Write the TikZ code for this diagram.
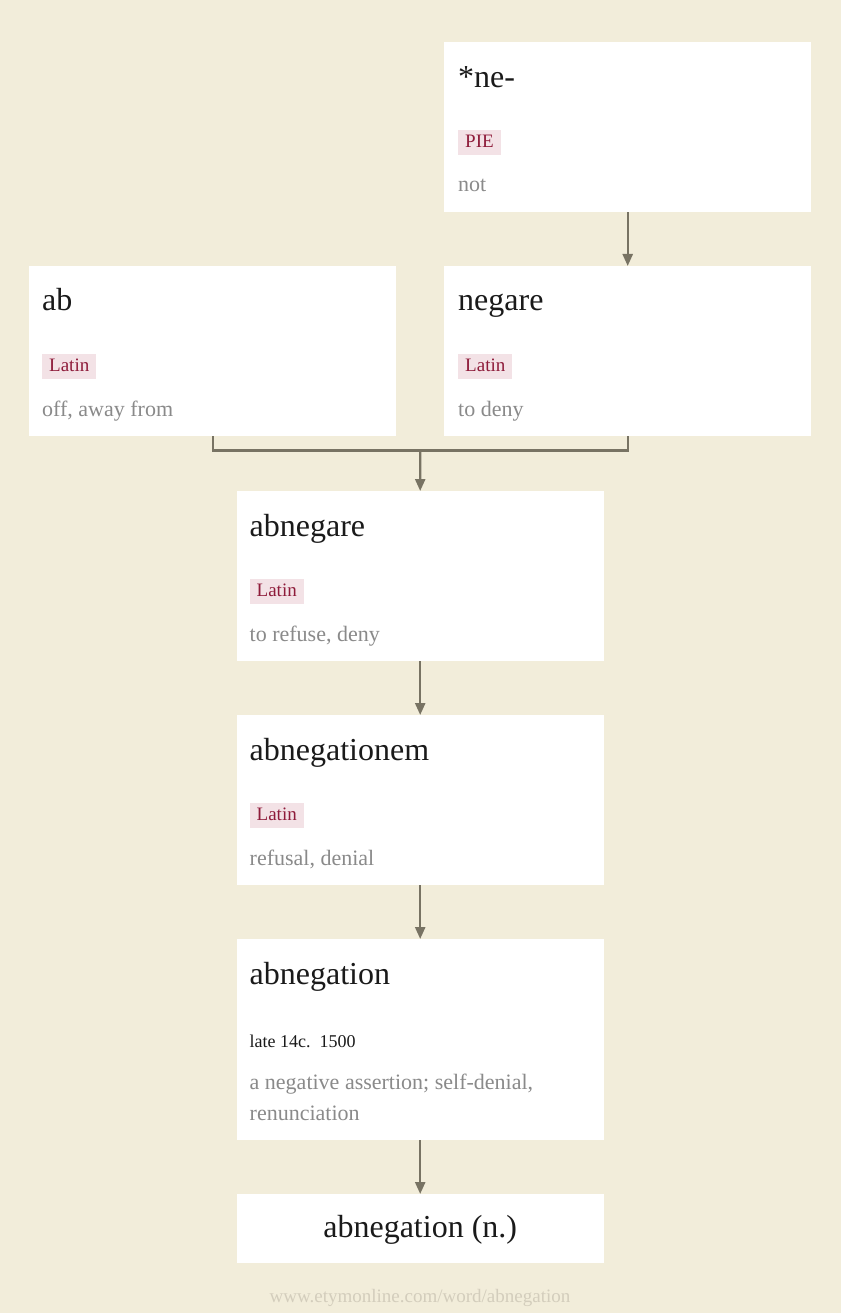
\documentclass[tikz,border=0pt]{standalone}
\usepackage{fontspec}
\setmainfont{Liberation Serif}
\usepackage{xcolor}
\usetikzlibrary{calc, positioning, arrows.meta}

\definecolor{paper}{HTML}{F2EDDA}
\definecolor{ink}{HTML}{1A1A1A}
\definecolor{gloss}{HTML}{8A8A8A}
\definecolor{tagfill}{HTML}{F3E2E6}
\definecolor{tagink}{HTML}{8E1B3A}
\definecolor{wire}{HTML}{787363}
\definecolor{foot}{HTML}{D3CDBC}

\tikzset{
	entry/.style={fill=white, inner sep=0pt, minimum width=367pt, minimum height=170pt, anchor=north west},
	headword/.style={anchor=base west, inner sep=0pt, text=ink, font=\fontsize{32}{38}\selectfont},
	langtag/.style={anchor=north west, fill=tagfill, text=tagink, inner xsep=7pt, inner ysep=0pt,
		minimum height=25pt, text height=13pt, text depth=4pt, font=\fontsize{19}{22}\selectfont},
	meaning/.style={anchor=base west, inner sep=0pt, text=gloss, align=left, font=\fontsize{22}{31}\selectfont},
	dating/.style={anchor=base west, inner sep=0pt, text=ink, font=\fontsize{18}{22}\selectfont},
	link/.style={draw=wire, line width=2.4pt},
	arr/.style={link, -{Triangle[width=10pt, length=12pt]}}
}

\begin{document}
\begin{tikzpicture}[x=1pt, y=-1pt]
			\useasboundingbox (0,0) rectangle (840,1313);
			\fill [paper] (-5,-5) rectangle (845,1318);

			\begin{scope}
				\node [entry] (ne) at (444,42) {};
				\node [headword] (neword) at ($(ne.north west)+(14,46)$) {*ne-};
				\node [langtag] (netag) at ($(ne.north west)+(14,88)$) {PIE};
				\node [meaning] (nemean) at ($(ne.north west)+(14,150)$) {not};

				\node [entry] (ab) at (29,266) {};
				\node [headword] (abword) at ($(ab.north west)+(13,45)$) {ab};
				\node [langtag] (abtag) at ($(ab.north west)+(13,88)$) {Latin};
				\node [meaning] (abmean) at ($(ab.north west)+(13,150)$) {off, away from};

				\node [entry] (negare) at (444,266) {};
				\node [headword] (negareword) at ($(negare.north west)+(14,45)$) {negare};
				\node [langtag] (negaretag) at ($(negare.north west)+(14,88)$) {Latin};
				\node [meaning] (negaremean) at ($(negare.north west)+(14,150)$) {to deny};

				\node [entry] (abnegare) at (236.5,491) {};
				\node [headword] (abnegareword) at ($(abnegare.north west)+(13,45)$) {abnegare};
				\node [langtag] (abnegaretag) at ($(abnegare.north west)+(13,88)$) {Latin};
				\node [meaning] (abnegaremean) at ($(abnegare.north west)+(13,150)$) {to refuse, deny};

				\node [entry] (abnegationem) at (236.5,715) {};
				\node [headword] (abnegationemword) at ($(abnegationem.north west)+(13,45)$) {abnegationem};
				\node [langtag] (abnegationemtag) at ($(abnegationem.north west)+(13,88)$) {Latin};
				\node [meaning] (abnegationemmean) at ($(abnegationem.north west)+(13,150)$) {refusal, denial};

				\node [entry, minimum height=201pt] (abnegation) at (236.5,939) {};
				\node [headword] (abnegationword) at ($(abnegation.north west)+(13,45)$) {abnegation};
				\node [dating] (abnegationdate) at ($(abnegation.north west)+(13,108)$) {late 14c.\ \ 1500};
				\node [meaning] (abnegationmean) at ($(abnegation.north west)+(13,181)$) {a negative assertion; self-denial,\\renunciation};

				\node [entry, minimum height=69pt] (noun) at (236.5,1194) {};
				\node [headword, anchor=base] (nounword) at ($(noun.north)+(0,43)$) {abnegation (n.)};
			\end{scope}

			\begin{scope}
				\coordinate (join) at ($(ab.south)!0.5!(negare.south)+(0,14)$);
				\draw [arr] (ne.south) -- (negare.north);
				\draw [link] (ab.south) |- (join) -| (negare.south);
				\draw [arr] (join) -- (abnegare.north);
				\draw [arr] (abnegare.south) -- (abnegationem.north);
				\draw [arr] (abnegationem.south) -- (abnegation.north);
				\draw [arr] (abnegation.south) -- (noun.north);
			\end{scope}

			\node [anchor=base, text=foot, font=\fontsize{19}{22}\selectfont] (source) at (420,1302) {www.etymonline.com/word/abnegation};
		\end{tikzpicture}
\end{document}
